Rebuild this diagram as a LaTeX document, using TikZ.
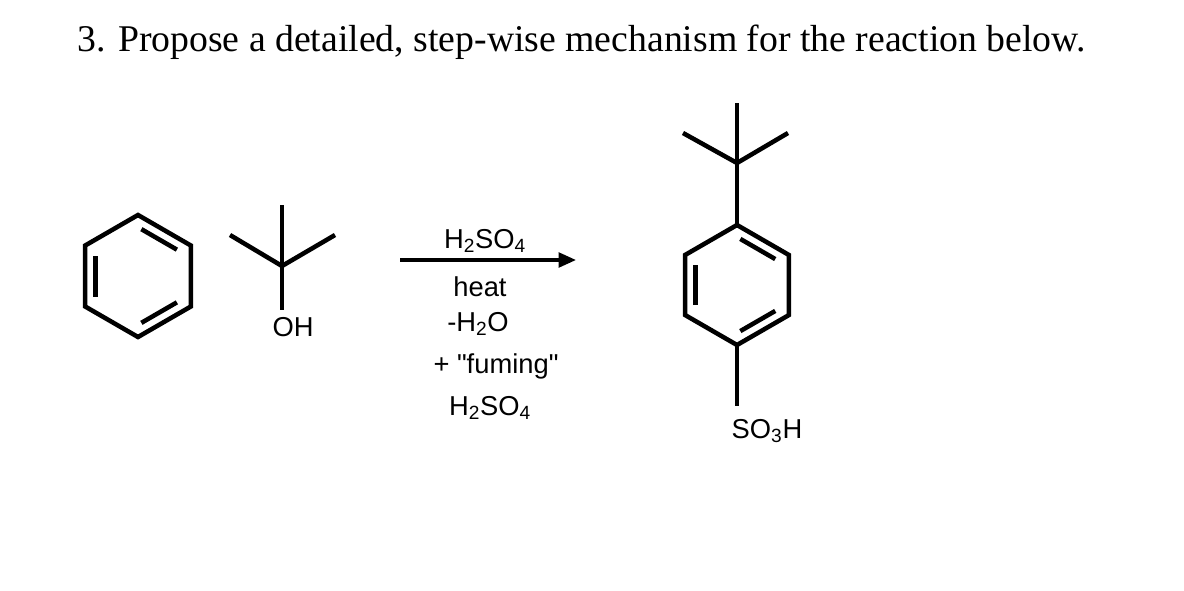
\documentclass[tikz,border=0pt]{standalone}
\usepackage{fontspec}
\setmainfont{Liberation Serif}
\newfontfamily\arial{Liberation Sans}
\usetikzlibrary{arrows.meta,calc}
\begin{document}
\begin{tikzpicture}[x=0.75pt,y=-0.75pt,
  bond/.style={line width=3.4pt,line cap=butt,line join=miter},
  lbl/.style={font=\arial\fontsize{20.5}{24}\selectfont,inner sep=0pt,align=center},
  rxarrow/.style={line width=2.4pt,-{Triangle[length=13pt,width=11pt]}}]
\useasboundingbox (0,0) rectangle (1184,590);
\node[anchor=west,font=\fontsize{28.3}{32}\selectfont,inner sep=0pt] (title) at (77,42) {3. Propose a detailed, step-wise mechanism for the reaction below.};
% benzene
\foreach \i/\a in {1/90,2/30,3/-30,4/-90,5/-150,6/150}
  \coordinate (b\i) at ($(138,276)+(\a:61 and -61)$);
\draw[bond] (b1)--(b2)--(b3)--(b4)--(b5)--(b6)--cycle;
\coordinate (bc) at (138,276);
\foreach \p/\q in {b1/b2,b3/b4,b5/b6}
  \draw[bond] ($(\p)!0.08!(\q)!0.2!(bc)$) -- ($(\p)!0.92!(\q)!0.2!(bc)$);
% t-butanol
\coordinate (tc) at (282,266);
\coordinate (tu) at (282,205);
\coordinate (tl) at (230,235);
\coordinate (tr) at (335,235);
\coordinate (to) at (282,310);
\draw[bond] (tl)--(tc)--(tr);
\draw[bond] (tu)--(to);
\node[lbl] (oh) at (293,327) {OH};
% arrow
\coordinate (a1) at (400,260);
\coordinate (a2) at (576,260);
\draw[rxarrow] (a1)--(a2);
\node[lbl] (r1) at (485,241) {H\textsubscript{2}SO\textsubscript{4}};
\node[lbl] (r2) at (480,287) {heat};
\node[lbl] (r3) at (478,324) {-H\textsubscript{2}O};
\node[lbl] (r4) at (496,366) {+ "fuming"};
\node[lbl] (r5) at (490,408) {H\textsubscript{2}SO\textsubscript{4}};
% product
\coordinate (pc) at (737,285);
\foreach \i/\a in {1/90,2/30,3/-30,4/-90,5/-150,6/150}
  \coordinate (p\i) at ($(pc)+(\a:60 and -60)$);
\draw[bond] (p1)--(p2)--(p3)--(p4)--(p5)--(p6)--cycle;
\foreach \p/\q in {p1/p2,p3/p4,p5/p6}
  \draw[bond] ($(\p)!0.08!(\q)!0.2!(pc)$) -- ($(\p)!0.92!(\q)!0.2!(pc)$);
\coordinate (q) at (737,163);
\coordinate (qu) at (737,103);
\coordinate (ql) at (683,133);
\coordinate (qr) at (788,133);
\draw[bond] (p1)--(q)--(qu);
\draw[bond] (ql)--(q)--(qr);
\coordinate (s) at (737,406);
\draw[bond] (p4)--(s);
\node[lbl] (so3h) at (767,431) {SO\textsubscript{3}H};
\end{tikzpicture}
\end{document}
